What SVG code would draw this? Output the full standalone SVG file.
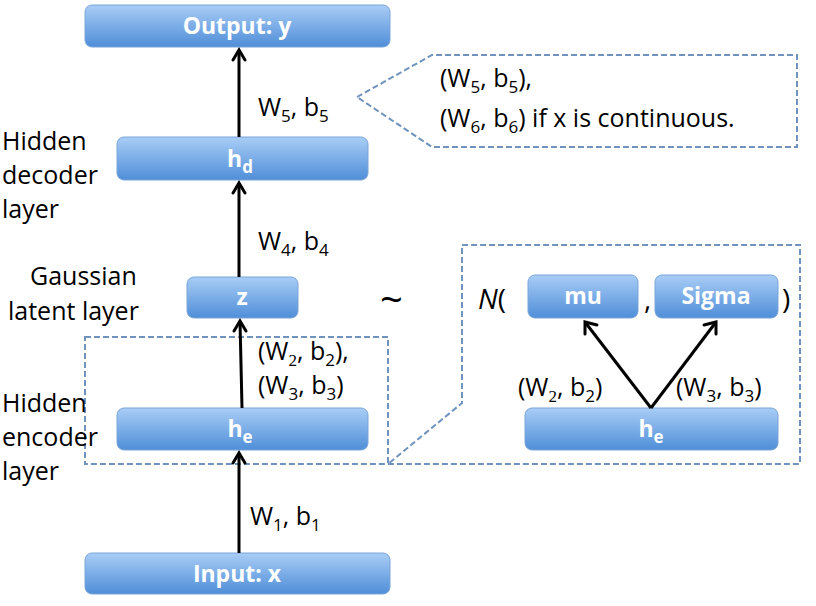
<svg xmlns="http://www.w3.org/2000/svg" width="816" height="606" viewBox="0 0 816 606">
<style>
text{font-family:"Open Sans","Liberation Sans",sans-serif;fill:#000;font-size:25px}
.bx{fill:url(#g);stroke:#7aa5d8;stroke-width:1}
.bl{fill:#fff;font-weight:bold;font-size:23px;text-anchor:middle}
.c{stroke:#000;stroke-width:3;fill:none}
.h{stroke:#000;stroke-width:3;fill:none;stroke-linecap:round}
.d{fill:none;stroke:#6f93bd;stroke-width:2;stroke-dasharray:6,3}
.s{font-size:17px}
</style>
<defs>
<linearGradient id="g" x1="0" y1="0" x2="0" y2="1"><stop offset="0" stop-color="#a9cdf6"/><stop offset="1" stop-color="#4f8ed8"/></linearGradient>
</defs>
<g id="dashed">
<path class="d" d="M85,337 H388 V464 L462,403 V245 H800 V464 H85 Z"/>
<path class="d" d="M357,97 L432,55 H797 V147 H432 Z"/>
</g>
<g id="output"><rect class="bx" x="85" y="5" width="305" height="42" rx="7"/><text class="bl" x="237" y="34">Output: y</text></g>
<g id="hd"><rect class="bx" x="117" y="137" width="251" height="43" rx="7"/><text class="bl" x="240" y="167">h<tspan class="s" dy="6">d</tspan></text></g>
<g id="z"><rect class="bx" x="187" y="277" width="111" height="41" rx="7"/><text class="bl" x="242" y="305">z</text></g>
<g id="he"><rect class="bx" x="117" y="408" width="251" height="42" rx="7"/><text class="bl" x="240" y="437">h<tspan class="s" dy="6">e</tspan></text></g>
<g id="input"><rect class="bx" x="85" y="553" width="305" height="41" rx="7"/><text class="bl" x="237" y="582">Input: x</text></g>
<g id="mu"><rect class="bx" x="528" y="275" width="110" height="43" rx="7"/><text class="bl" x="583" y="304">mu</text></g>
<g id="sigma"><rect class="bx" x="655" y="275" width="123" height="43" rx="7"/><text class="bl" x="716" y="304">Sigma</text></g>
<g id="he2"><rect class="bx" x="525" y="408" width="253" height="42" rx="7"/><text class="bl" x="651" y="437">h<tspan class="s" dy="6">e</tspan></text></g>
<g id="connectors">
<line class="c" x1="239" y1="137" x2="239" y2="50"/><path class="h" d="M233,60 L239,50 L245,60"/>
<line class="c" x1="239" y1="277" x2="239" y2="183"/><path class="h" d="M233,193 L239,183 L245,193"/>
<line class="c" x1="242" y1="408" x2="240" y2="321"/><path class="h" d="M234,331 L240,321 L246,331"/>
<line class="c" x1="239" y1="553" x2="239" y2="453"/><path class="h" d="M233,463 L239,453 L245,463"/>
<line class="c" x1="651" y1="408" x2="585" y2="322"/><path class="h" d="M585,334 L585,322 L597,325"/>
<line class="c" x1="651" y1="408" x2="716" y2="322"/><path class="h" d="M704,325 L716,322 L716,334"/>
</g>
<g id="labels">
<text x="2" y="150">Hidden</text><text x="2" y="184">decoder</text><text x="2" y="218">layer</text>
<text x="30" y="285">Gaussian</text><text x="8" y="320">latent layer</text>
<text x="2" y="412">Hidden</text><text x="2" y="446">encoder</text><text x="2" y="480">layer</text>
<text x="258" y="116">W<tspan class="s" dy="6">5</tspan><tspan dy="-6">, b</tspan><tspan class="s" dy="6">5</tspan></text>
<text x="258" y="250">W<tspan class="s" dy="6">4</tspan><tspan dy="-6">, b</tspan><tspan class="s" dy="6">4</tspan></text>
<text x="258" y="360">(W<tspan class="s" dy="6" style="font-family:'Liberation Serif'">2</tspan><tspan dy="-6">, b</tspan><tspan class="s" dy="6">2</tspan><tspan dy="-6">),</tspan></text>
<text x="258" y="394">(W<tspan class="s" dy="6">3</tspan><tspan dy="-6">, b</tspan><tspan class="s" dy="6">3</tspan><tspan dy="-6">)</tspan></text>
<text x="250" y="525">W<tspan class="s" dy="6">1</tspan><tspan dy="-6">, b</tspan><tspan class="s" dy="6">1</tspan></text>
<text x="440" y="87">(W<tspan class="s" dy="6">5</tspan><tspan dy="-6">, b</tspan><tspan class="s" dy="6">5</tspan><tspan dy="-6">),</tspan></text>
<text x="440" y="127">(W<tspan class="s" dy="6">6</tspan><tspan dy="-6">, b</tspan><tspan class="s" dy="6">6</tspan><tspan dy="-6">) if x is continuous.</tspan></text>
<text x="380" y="314" style="font-size:40px">~</text>
<text x="478" y="309" style="font-size:28px"><tspan font-style="italic">N</tspan>(</text>
<text x="644" y="309" style="font-size:28px">,</text>
<text x="782" y="309" style="font-size:28px">)</text>
<text x="518" y="396">(W<tspan class="s" dy="6" style="font-family:'Liberation Serif'">2</tspan><tspan dy="-6">, b</tspan><tspan class="s" dy="6">2</tspan><tspan dy="-6">)</tspan></text>
<text x="676" y="396">(W<tspan class="s" dy="6">3</tspan><tspan dy="-6">, b</tspan><tspan class="s" dy="6">3</tspan><tspan dy="-6">)</tspan></text>
</g>
</svg>
